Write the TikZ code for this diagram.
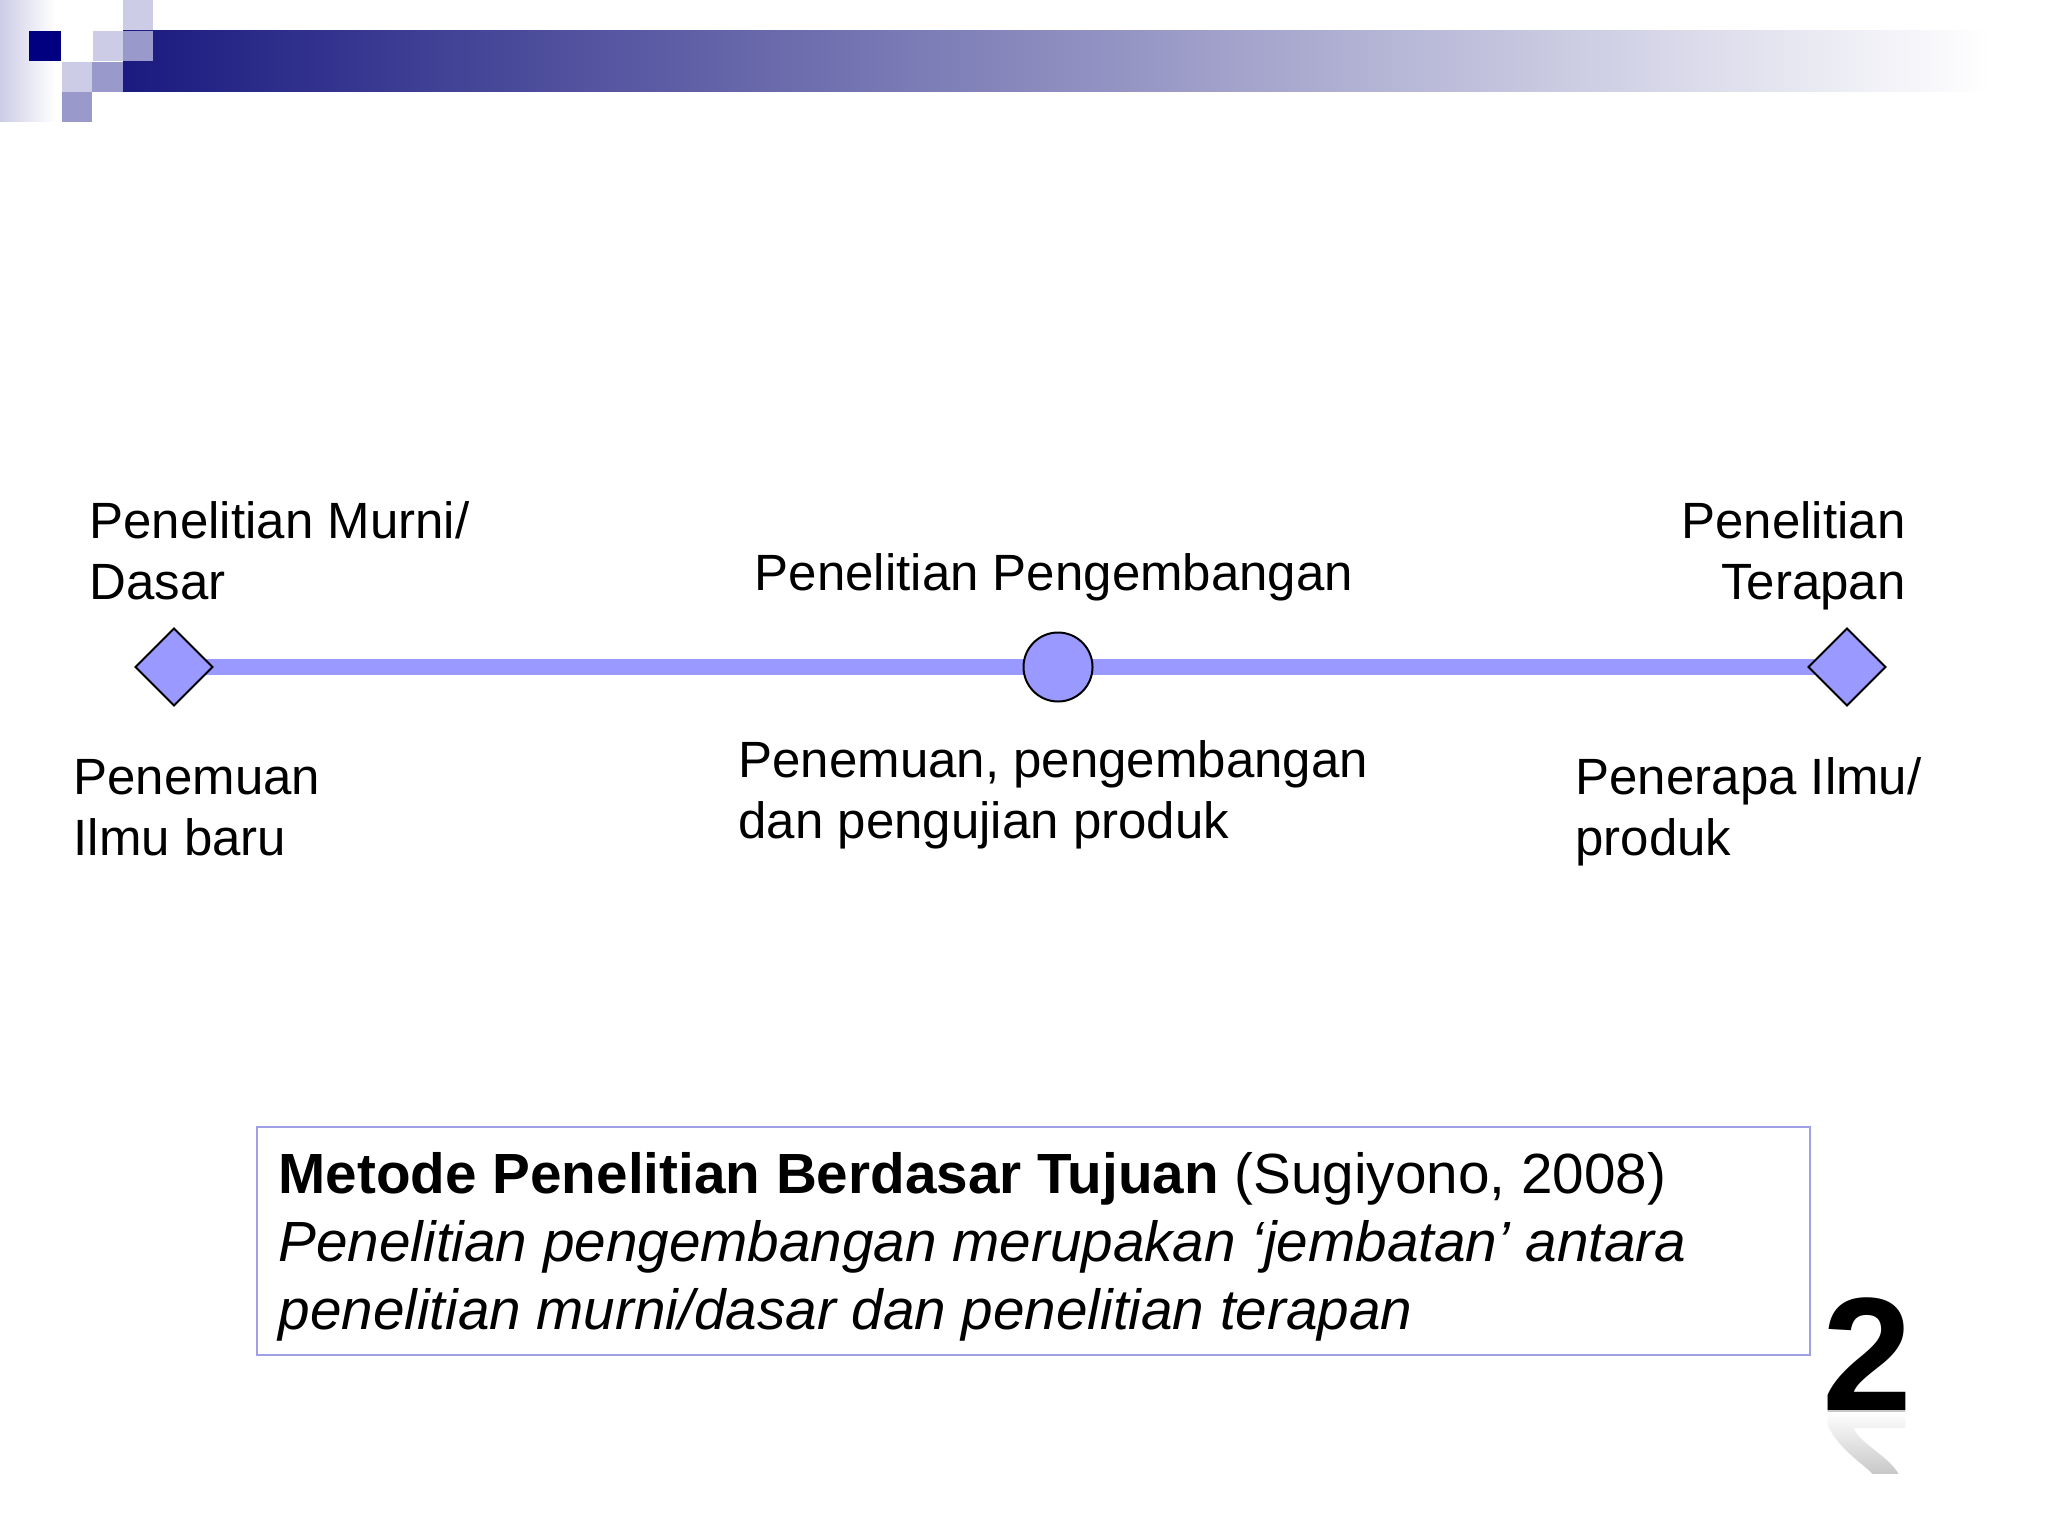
\documentclass[tikz,border=0pt]{standalone}
\usepackage{fontspec}
\setmainfont{Liberation Sans}
\usetikzlibrary{positioning,shapes.geometric,backgrounds,fadings}
\definecolor{tua}{RGB}{0,0,128}
\definecolor{muda}{RGB}{204,204,230}
\definecolor{sedang}{RGB}{153,153,204}
\definecolor{pita}{RGB}{26,26,128}
\definecolor{garis}{RGB}{153,153,255}
\definecolor{bingkai}{RGB}{160,160,230}

\begin{document}
\begin{tikzpicture}[x=0.0124023cm,y=-0.0124023cm,%
  knot/.style={draw=black,fill=garis,line width=0.7pt,inner sep=0,outer sep=0},%
  jalur/.style={garis,line width=5.6pt},%
  lbl/.style={font=\fontsize{18}{21.5}\selectfont,inner sep=0,align=left},%
  angka/.style={font=\fontsize{57}{60}\selectfont\bfseries,inner sep=0,anchor=base}%
  ]
  \useasboundingbox (0,0) rectangle (2048,1536);
%
  % header decoration
  \shade[left color=muda,right color=white] (0,0) rectangle (55,122);
  \shade[left color=pita,right color=white] (123,31) rectangle (1990,92);
  \fill[tua]    (29,31) rectangle (61,61);
  \fill[muda]   (93,31) rectangle (123,61);
  \fill[sedang] (123,31) rectangle (153,61);
  \fill[muda]   (123,0) rectangle (153,30);
  \fill[muda]   (62,62) rectangle (92,92);
  \fill[sedang] (92,62) rectangle (123,92);
  \fill[sedang] (62,92) rectangle (92,122);
%
  \node (dasar)   [knot,diamond,minimum size=0.955cm] at (174,667) {};
  \node (kembang) [knot,circle,minimum size=0.856cm]  at (1058,667) {};
  \node (terapan) [knot,diamond,minimum size=0.955cm] at (1847,667) {};
%
  \begin{scope}[on background layer]
    \draw[jalur] (dasar.center) -- (kembang.center) -- (terapan.center);
  \end{scope}
%
  \node (murni)    [lbl,anchor=west] at (89,551) {Penelitian Murni/\\Dasar};
  \node (kembang-t)[lbl]             at (1054,577) {Penelitian Pengembangan};
  \node (terapan-t)[lbl,align=right,anchor=east] at (1906,556) {Penelitian\\Terapan};
  \node (ilmu)     [lbl,anchor=west] at (73,808) {Penemuan\\Ilmu baru};
  \node (produk)   [lbl,anchor=west] at (738,795) {Penemuan, pengembangan\\dan pengujian produk};
  \node (guna)     [lbl,anchor=west] at (1575,812) {Penerapa Ilmu/\\produk};
%
  \node (tujuan) [draw=bingkai,line width=0.8pt,anchor=north west,
    minimum width=19.26cm,minimum height=2.83cm] at (256,1126) {};
  \node (tujuan-t) [anchor=west,inner sep=0,align=left,
    font=\fontsize{20}{24}\selectfont] at (278,1247)
    {\textbf{Metode Penelitian Berdasar Tujuan} (Sugiyono, 2008)\\
     \textit{Penelitian pengembangan merupakan ‘jembatan’ antara}\\
     \textit{penelitian murni/dasar dan penelitian terapan}};
%
  \node (nomor)  [angka] at (1867,1410) {2};
  \node (bayang) [angka,yscale=-1,text=black!22] at (1867,1410) {2};
  \fill[white,path fading=south] (1800,1412) rectangle (1940,1475);
  \fill[white] (1800,1474) rectangle (1940,1536);
%
\end{tikzpicture}
\end{document}
